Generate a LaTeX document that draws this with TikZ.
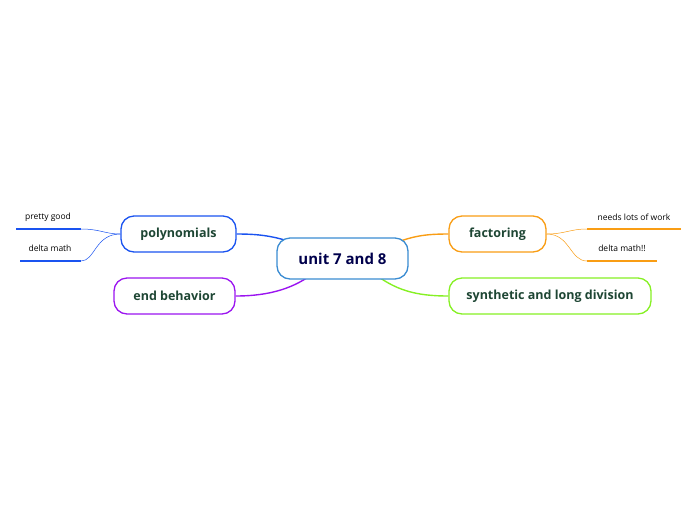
\documentclass[tikz,border=0pt]{standalone}
\usepackage{fontspec}
\setmainfont{Open Sans}
\usetikzlibrary{backgrounds}
\begin{document}
\begin{tikzpicture}[x=1pt,y=-1pt,
  box/.style={draw,line width=1.3pt,rounded corners=13pt,fill=white,text=textc,font=\fontsize{12.5}{14}\selectfont\bfseries,inner sep=0pt,minimum height=36pt},
  leaf/.style={font=\fontsize{8.5}{10}\selectfont,text=black,inner sep=1pt},
  ln/.style={line width=2.2pt},
  cn/.style={line width=1.4pt}]
\definecolor{textc}{HTML}{1E4634}
\definecolor{cblue}{HTML}{1A53F0}
\definecolor{corange}{HTML}{F99D14}
\definecolor{cpurple}{HTML}{9B14F0}
\definecolor{cgreen}{HTML}{86F024}
\definecolor{ccenter}{HTML}{3A8CD2}
\useasboundingbox (0,0) rectangle (696,520);
\node[box,draw=ccenter,minimum width=131pt,minimum height=41pt,text=black!70!blue,font=\fontsize{15}{17}\selectfont\bfseries] (c) at (342.5,258.5) {unit 7 and 8};
\node[box,draw=cblue,minimum width=115pt] (p) at (178.5,234) {polynomials};
\node[box,draw=cpurple,minimum width=121pt] (e) at (174.5,296) {end behavior};
\node[box,draw=corange,minimum width=97pt] (f) at (497.5,234) {factoring};
\node[box,draw=cgreen,minimum width=202pt] (s) at (550,296) {synthetic and long division};
\node[leaf] (pg) at (48,217) {pretty good};
\node[leaf] (dm) at (50,248) {delta math};
\node[leaf] (nl) at (634,217) {needs lots of work};
\node[leaf] (dm2) at (622,248) {delta math!!};
\coordinate (pgA) at (16,229); \coordinate (pgB) at (81,229);
\coordinate (dmA) at (20,261); \coordinate (dmB) at (81,261);
\coordinate (nlA) at (587,229); \coordinate (nlB) at (681,229);
\coordinate (d2A) at (587,261); \coordinate (d2B) at (657,261);
\draw[ln,cblue] (pgA) -- (pgB); \draw[ln,cblue] (dmA) -- (dmB);
\draw[ln,corange] (nlA) -- (nlB); \draw[ln,corange] (d2A) -- (d2B);
\draw[cblue,line width=0.5pt] (p.west) .. controls (105,234) and (100,229) .. (pgB);
\draw[cblue,line width=0.5pt] (p.west) .. controls (95,234) and (95,261) .. (dmB);
\draw[corange,line width=0.5pt] (f.east) .. controls (565,234) and (570,229) .. (nlA);
\draw[corange,line width=0.5pt] (f.east) .. controls (570,234) and (570,261) .. (d2A);
\begin{scope}[on background layer]
\draw[cn,cblue] (p.east) .. controls (260,234) and (275,236) .. (300,245);
\draw[cn,corange] (f.west) .. controls (425,234) and (412,236) .. (390,245);
\draw[cn,cpurple] (e.east) .. controls (270,296) and (295,288) .. (315,272);
\draw[cn,cgreen] (s.west) .. controls (415,296) and (395,290) .. (372,272);
\end{scope}
\end{tikzpicture}
\end{document}
